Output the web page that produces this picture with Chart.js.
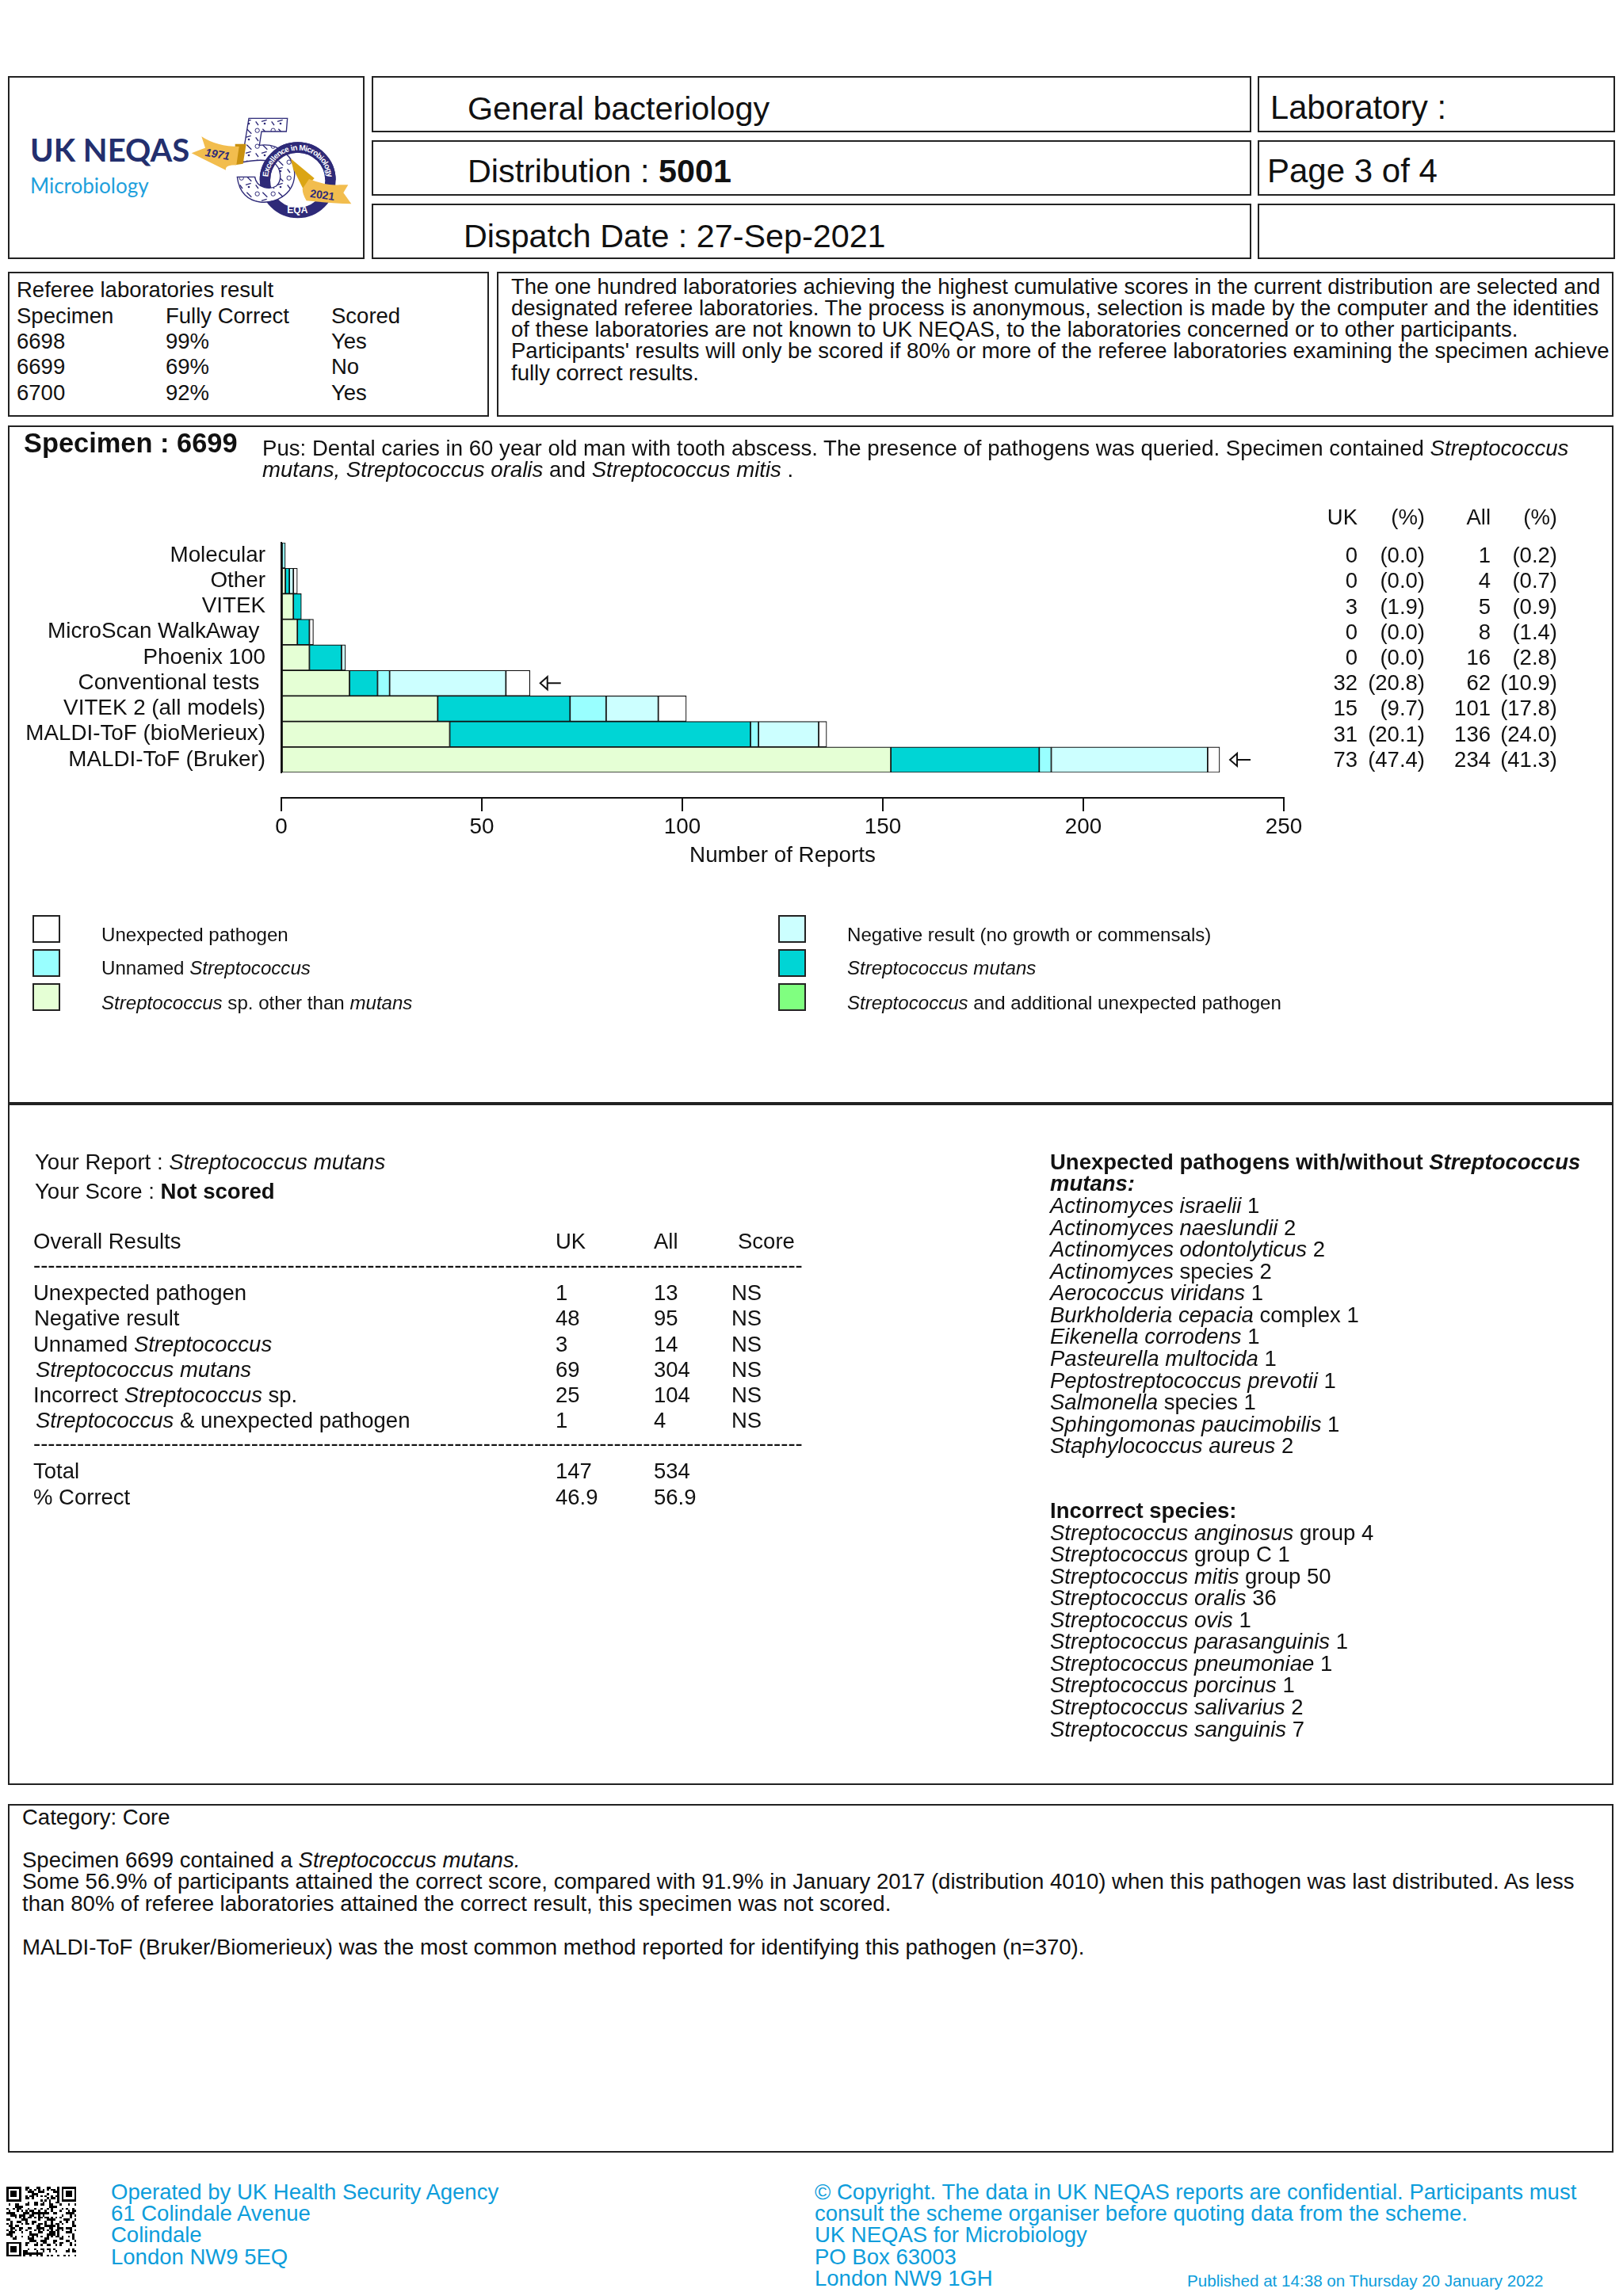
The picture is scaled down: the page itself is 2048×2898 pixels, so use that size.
<!DOCTYPE html>
<html>
<head>
<meta charset="utf-8">
<title>UK NEQAS General bacteriology</title>
<script src="https://cdn.jsdelivr.net/npm/chart.js@4"></script>
<style>
  html, body { margin: 0; padding: 0; background: #fff; }
  #page { position: relative; width: 2048px; height: 2898px; overflow: hidden; font-family: "Liberation Sans", Arial, sans-serif; color: #111; }
  .box { position: absolute; box-sizing: border-box; border: 2px solid #222; }
  .t { position: absolute; white-space: pre; line-height: 1.117; }
  .sw { position: absolute; box-sizing: border-box; width: 35px; height: 35px; border: 2px solid #222; }
  canvas, svg { position: absolute; }
</style>
</head>
<body>
<div id="page">
  <svg id="logo" style="left:20px;top:140px" width="430" height="180" viewBox="0 0 1290 540">
    <defs>
      <pattern id="bugs" width="60" height="60" patternUnits="userSpaceOnUse">
        <rect width="60" height="60" fill="#fff"/>
        <circle cx="14" cy="14" r="8" fill="none" stroke="#2e2a78" stroke-width="3"/>
        <path d="M34 8 L52 26 M30 40 L50 34 M8 40 L18 54" stroke="#2e2a78" stroke-width="4"/>
        <circle cx="42" cy="48" r="4" fill="#2e2a78"/>
      </pattern>
    </defs>
    <circle cx="1067" cy="262" r="124" fill="none" stroke="#2e2a78" stroke-width="40"/>
    <path d="M882 28 L1028 28 L1024 78 L930 78 L922 130 C990 120 1060 170 1055 245 C1050 320 980 350 925 345 C880 340 845 310 838 250 L905 250 C910 290 960 300 985 285 C1010 265 1005 215 975 195 C940 180 880 190 855 195 Z" fill="url(#bugs)" stroke="#2e2a78" stroke-width="4"/>
    <path d="M943 262 A124 124 0 0 1 1191 262" fill="none" stroke="#2e2a78" stroke-width="40"/>
    <text id="ringText" font-family="'Liberation Sans Narrow','Liberation Sans'" font-size="30" font-weight="bold" fill="#fff">Excellence in Microbiology</text>
    <text x="1066" y="388" text-anchor="middle" font-family="'Liberation Sans'" font-size="36" font-weight="bold" fill="#fff">EQA</text>
    <path d="M830 125 L872 125 L860 200 L830 205 Z" fill="#c8900f"/>
    <path d="M1040 180 L1130 255 L1090 300 L1050 220 Z" fill="#dba514"/>
    <path d="M703 97 Q760 135 845 135 L835 205 Q790 205 795 224 Q735 195 665 160 L717 140 Z" fill="#f2bd4e"/>
    <path d="M1110 258 Q1180 285 1225 280 L1258 280 L1240 310 L1270 352 Q1200 350 1100 340 Q1085 315 1085 295 Z" fill="#f2bd4e"/>
    <text transform="translate(715 170) rotate(10)" font-family="'Liberation Sans'" font-size="42" font-weight="bold" font-style="italic" fill="#2e2a78">1971</text>
    <text transform="translate(1112 326) rotate(8)" font-family="'Liberation Sans'" font-size="42" font-weight="bold" fill="#2e2a78">2021</text>
  </svg>
  <canvas id="reports" width="2048" height="480" style="left:0;top:640px"></canvas>
</div>

<script>
  // chart data, top to bottom
  const methods = ['Molecular', 'Other', 'VITEK', 'MicroScan WalkAway ', 'Phoenix 100', 'Conventional tests ', 'VITEK 2 (all models)', 'MALDI-ToF (bioMerieux)', 'MALDI-ToF (Bruker)'];
  const otherSpecies = [null, 1, 3, 4, 7, 17, 39, 42, 152];
  const mutans = [null, 1, 2, 3, 8, 7, 33, 75, 37];
  const unnamed = [1, null, null, null, null, 3, 9, 2, 3];
  const negative = [null, 1, null, null, 1, 29, 13, 15, 39];
  const unexpected = [null, 1, null, 1, null, 6, 7, 2, 3];
  const withUnexpected = [null, null, null, null, null, null, null, null, null];

  const xTicks = [0, 50, 100, 150, 200, 250];
  const ukCounts = [0, 0, 3, 0, 0, 32, 15, 31, 73];
  const ukPercent = ['(0.0)', '(0.0)', '(1.9)', '(0.0)', '(0.0)', '(20.8)', '(9.7)', '(20.1)', '(47.4)'];
  const allCounts = [1, 4, 5, 8, 16, 62, 101, 136, 234];
  const allPercent = ['(0.2)', '(0.7)', '(0.9)', '(1.4)', '(2.8)', '(10.9)', '(17.8)', '(24.0)', '(41.3)'];
  const arrowRows = [5, 8];

  // overall results table
  const overallRows = ['Unexpected pathogen', 'Negative result', 'Unnamed <i>Streptococcus</i>', '<i>Streptococcus mutans</i>', 'Incorrect <i>Streptococcus</i> sp.', '<i>Streptococcus</i> &amp; unexpected pathogen'];
  const overallIndent = [0, 1, 0, 3, 0, 3];
  const overallUk = [1, 48, 3, 69, 25, 1];
  const overallAll = [13, 95, 14, 304, 104, 4];

  const unexpectedList = ['<i>Actinomyces israelii</i> 1', '<i>Actinomyces naeslundii</i> 2', '<i>Actinomyces odontolyticus</i> 2', '<i>Actinomyces</i> species 2', '<i>Aerococcus viridans</i> 1', '<i>Burkholderia cepacia</i> complex 1', '<i>Eikenella corrodens</i> 1', '<i>Pasteurella multocida</i> 1', '<i>Peptostreptococcus prevotii</i> 1', '<i>Salmonella</i> species 1', '<i>Sphingomonas paucimobilis</i> 1', '<i>Staphylococcus aureus</i> 2'];
  const incorrectList = ['<i>Streptococcus anginosus</i> group 4', '<i>Streptococcus</i> group C 1', '<i>Streptococcus mitis</i> group 50', '<i>Streptococcus oralis</i> 36', '<i>Streptococcus ovis</i> 1', '<i>Streptococcus parasanguinis</i> 1', '<i>Streptococcus pneumoniae</i> 1', '<i>Streptococcus porcinus</i> 1', '<i>Streptococcus salivarius</i> 2', '<i>Streptococcus sanguinis</i> 7'];

  const GREEN = '#e5ffd5', TEAL = '#00d5d5', AQUA = '#99ffff', PALE = '#ccffff', WHITE = '#ffffff', LIME = '#80ff80';
  const BLUE = '#0d9ddb';
  const BODY = 27.5;
  const page = document.getElementById('page');

  function box(x1, y1, x2, y2) {
    const d = document.createElement('div');
    d.className = 'box';
    d.style.cssText = `left:${x1}px;top:${y1}px;width:${x2 - x1}px;height:${y2 - y1}px`;
    page.appendChild(d);
  }

  // x is the left edge (or right edge with align r), y the baseline
  function put(x, y, html, size = BODY, opt = {}) {
    const d = document.createElement('div');
    d.className = 't';
    d.innerHTML = html;
    d.style.fontSize = size + 'px';
    d.style.top = (y - size * 0.905) + 'px';
    if (opt.r) d.style.right = (2048 - x) + 'px'; else d.style.left = x + 'px';
    if (opt.color) d.style.color = opt.color;
    if (opt.font) d.style.fontFamily = opt.font;
    if (opt.extra) d.style.cssText += opt.extra;
    page.appendChild(d);
  }

  // bend the logo's ring text round the ring, glyph by glyph
  function bendRingText() {
    const el = document.getElementById('ringText');
    const word = el.textContent;
    const m = document.createElement('canvas').getContext('2d');
    m.font = 'bold 30px "Liberation Sans Narrow", "Liberation Sans"';
    const widths = [...word].map(ch => m.measureText(ch).width);
    const total = widths.reduce((a, b) => a + b, 0);
    const start = -174, sweep = 168;
    let run = 0;
    const xs = [], ys = [], rot = [];
    widths.forEach(w => {
      const deg = start + sweep * run / total;
      const rad = deg * Math.PI / 180;
      xs.push((1067 + 113 * Math.cos(rad)).toFixed(1));
      ys.push((262 + 113 * Math.sin(rad)).toFixed(1));
      rot.push((deg + 90).toFixed(1));
      run += w;
    });
    el.setAttribute('x', xs.join(' '));
    el.setAttribute('y', ys.join(' '));
    el.setAttribute('rotate', rot.join(' '));
  }
  bendRingText();

  // frames
  box(10, 96, 460, 327);
  box(469, 96, 1579, 167);
  box(469, 177, 1579, 247);
  box(469, 257, 1579, 327);
  box(1587, 96, 2038, 167);
  box(1587, 177, 2038, 247);
  box(1587, 257, 2038, 327);
  box(10, 343, 617, 526);
  box(627, 343, 2036, 526);
  box(10, 537, 2036, 1393);
  box(10, 1393, 2036, 2253);
  box(10, 2277, 2036, 2717);

  // logo text
  put(38, 203, 'UK NEQAS', 40, { color: '#232f6e', font: 'Lato', extra: 'font-weight:700' });
  put(38, 244, 'Microbiology', 26, { color: '#1ea0dc', font: 'Lato' });

  // header
  put(590, 151, 'General bacteriology', 41.3);
  put(590, 230.5, 'Distribution : <b>5001</b>', 41.3);
  put(585, 312, 'Dispatch Date : 27-Sep-2021', 41.3);
  put(1603, 151, 'Laboratory :', 41.6);
  put(1599, 231, 'Page 3 of 4', 42);

  // referee box
  put(21, 376, 'Referee laboratories result');
  put(21, 408.5, 'Specimen');
  put(209, 408.5, 'Fully Correct');
  put(418, 408.5, 'Scored');
  [['6698', '99%', 'Yes'], ['6699', '69%', 'No'], ['6700', '92%', 'Yes']].forEach((r, i) => {
    const y = 440.5 + i * 32.5;
    put(21, y, r[0]);
    put(209, y, r[1]);
    put(418, y, r[2]);
  });
  ['The one hundred laboratories achieving the highest cumulative scores in the current distribution are selected and',
   'designated referee laboratories. The process is anonymous, selection is made by the computer and the identities',
   'of these laboratories are not known to UK NEQAS, to the laboratories concerned or to other participants.',
   "Participants' results will only be scored if 80% or more of the referee laboratories examining the specimen achieve",
   'fully correct results.'].forEach((l, i) => put(645, 371.5 + i * 27.25, l));

  // specimen heading
  put(30, 571, '<b>Specimen : 6699</b>', 34.4);
  put(331, 576, 'Pus: Dental caries in 60 year old man with tooth abscess. The presence of pathogens was queried. Specimen contained <i>Streptococcus</i>', 27.6);
  put(331, 603, '<i>mutans, Streptococcus oralis</i> and <i>Streptococcus mitis</i> .', 27.6);

  // counts to the right of the chart
  const colUk = 1713, colUkPct = 1798, colAll = 1881, colAllPct = 1965;
  put(colUk, 663, 'UK', BODY, { r: 1 });
  put(colUkPct, 663, '(%)', BODY, { r: 1 });
  put(colAll, 663, 'All', BODY, { r: 1 });
  put(colAllPct, 663, '(%)', BODY, { r: 1 });
  methods.forEach((m, i) => {
    const y = 711 + i * 32.2;
    put(colUk, y, String(ukCounts[i]), BODY, { r: 1 });
    put(colUkPct, y, ukPercent[i], BODY, { r: 1 });
    put(colAll, y, String(allCounts[i]), BODY, { r: 1 });
    put(colAllPct, y, allPercent[i], BODY, { r: 1 });
  });

  // legend
  const legendRows = [
    [41, 1155, WHITE, 128, 1189, 'Unexpected pathogen'],
    [41, 1198, AQUA, 128, 1231, 'Unnamed <i>Streptococcus</i>'],
    [41, 1241, GREEN, 128, 1275, '<i>Streptococcus</i> sp. other than <i>mutans</i>'],
    [982, 1155, PALE, 1069, 1189, 'Negative result (no growth or commensals)'],
    [982, 1198, TEAL, 1069, 1231, '<i>Streptococcus mutans</i>'],
    [982, 1241, LIME, 1069, 1275, '<i>Streptococcus</i> and additional unexpected pathogen']
  ];
  legendRows.forEach(r => {
    const s = document.createElement('div');
    s.className = 'sw';
    s.style.cssText = `left:${r[0]}px;top:${r[1]}px;background:${r[2]}`;
    page.appendChild(s);
    put(r[3], r[4], r[5], 24.1);
  });

  // results box, left
  put(44, 1477, 'Your Report : <i>Streptococcus mutans</i>', 27.6);
  put(44, 1514, 'Your Score : <b>Not scored</b>', 27.6);
  put(42, 1577, 'Overall Results');
  put(701, 1577, 'UK');
  put(825, 1577, 'All');
  put(931, 1577, 'Score');
  const dashes = '-'.repeat(106);
  put(42, 1607, dashes);
  overallRows.forEach((r, i) => {
    const y = 1642 + i * 32.2;
    put(42 + overallIndent[i], y, r);
    put(701, y, String(overallUk[i]));
    put(825, y, String(overallAll[i]));
    put(923, y, 'NS');
  });
  put(42, 1832, dashes);
  put(42, 1867, 'Total');
  put(701, 1867, '147');
  put(825, 1867, '534');
  put(42, 1900, '% Correct');
  put(701, 1900, '46.9');
  put(825, 1900, '56.9');

  // results box, right
  put(1325, 1476.5, '<b>Unexpected pathogens with/without <i>Streptococcus</i></b>');
  put(1325, 1504, '<b><i>mutans:</i></b>');
  unexpectedList.forEach((l, i) => put(1325, 1532 + i * 27.55, l));
  put(1325, 1916.5, '<b>Incorrect species:</b>');
  incorrectList.forEach((l, i) => put(1325, 1944.5 + i * 27.55, l));

  // commentary
  put(28, 2304, 'Category: Core');
  put(28, 2358, 'Specimen 6699 contained a <i>Streptococcus mutans.</i>');
  put(28, 2385, 'Some 56.9% of participants attained the correct score, compared with 91.9% in January 2017 (distribution 4010) when this pathogen was last distributed. As less', 27.55);
  put(28, 2413, 'than 80% of referee laboratories attained the correct result, this specimen was not scored.', 27.55);
  put(28, 2468, 'MALDI-ToF (Bruker/Biomerieux) was the most common method reported for identifying this pathogen (n=370).', 27.55);

  // footer
  ['Operated by UK Health Security Agency', '61 Colindale Avenue', 'Colindale', 'London NW9 5EQ']
    .forEach((l, i) => put(140, 2776.5 + i * 27.3, l, BODY, { color: BLUE }));
  ['© Copyright. The data in UK NEQAS reports are confidential. Participants must', 'consult the scheme organiser before quoting data from the scheme.', 'UK NEQAS for Microbiology', 'PO Box 63003', 'London NW9 1GH']
    .forEach((l, i) => put(1028, 2776.5 + i * 27.3, l, BODY, { color: BLUE }));
  put(1498, 2886, 'Published at 14:38 on Thursday 20 January 2022', 20.6, { color: BLUE });

  // QR code block: finder squares plus a fixed fill pattern
  const qrSize = 33, mod = 2.68;
  let qr = '';
  function finder(cx, cy) {
    return `<rect x="${cx}" y="${cy}" width="7" height="7"/><rect x="${cx + 1}" y="${cy + 1}" width="5" height="5" fill="#fff"/><rect x="${cx + 2}" y="${cy + 2}" width="3" height="3"/>`;
  }
  for (let r = 0; r < qrSize; r++) {
    for (let c = 0; c < qrSize; c++) {
      const inFinder = (r < 8 && c < 8) || (r < 8 && c > qrSize - 9) || (r > qrSize - 9 && c < 8);
      if (!inFinder && ((r * 7 + c * 13 + (r * c) % 11 + (r ^ c)) % 5 < 2)) qr += `<rect x="${c}" y="${r}" width="1" height="1"/>`;
    }
  }
  qr += finder(0, 0) + finder(qrSize - 7, 0) + finder(0, qrSize - 7);
  page.insertAdjacentHTML('beforeend', `<svg style="left:8px;top:2760px" width="${qrSize * mod}" height="${qrSize * mod}" viewBox="0 0 ${qrSize} ${qrSize}" fill="#000" shape-rendering="crispEdges">${qr}</svg>`);

  // the x axis sits a little below the bars
  const AXIS_DROP = 32;
  const dropAxis = {
    id: 'dropAxis',
    afterLayout(chart) {
      const x = chart.scales.x;
      x.top += AXIS_DROP;
      x.bottom += AXIS_DROP;
    }
  };

  // open arrows that mark the user's method
  const methodArrows = {
    id: 'methodArrows',
    afterDatasetsDraw(chart) {
      const { ctx, scales } = chart;
      ctx.save();
      ctx.strokeStyle = '#111';
      ctx.lineWidth = 2;
      arrowRows.forEach(i => {
        const x = scales.x.getPixelForValue(allCounts[i]) + 13;
        const y = scales.y.getPixelForValue(i);
        ctx.beginPath();
        ctx.moveTo(x + 9, y - 8);
        ctx.lineTo(x, y);
        ctx.lineTo(x + 9, y + 8);
        ctx.closePath();
        ctx.moveTo(x + 9, y);
        ctx.lineTo(x + 26, y);
        ctx.stroke();
      });
      ctx.restore();
    }
  };

  function series(label, data, color) {
    return { label, data, backgroundColor: color, borderColor: '#111', borderWidth: 1.2, borderSkipped: false, barPercentage: 1, categoryPercentage: 1 };
  }

  Chart.defaults.font.family = '"Liberation Sans", Arial, sans-serif';
  Chart.defaults.font.size = 27.8;
  Chart.defaults.color = '#111';

  new Chart(document.getElementById('reports').getContext('2d'), {
    type: 'bar',
    data: {
      labels: methods,
      datasets: [
        series('Streptococcus sp. other than mutans', otherSpecies, GREEN),
        series('Streptococcus mutans', mutans, TEAL),
        series('Unnamed Streptococcus', unnamed, AQUA),
        series('Negative result (no growth or commensals)', negative, PALE),
        series('Unexpected pathogen', unexpected, WHITE),
        series('Streptococcus and additional unexpected pathogen', withUnexpected, LIME)
      ]
    },
    options: {
      indexAxis: 'y',
      responsive: false,
      animation: false,
      devicePixelRatio: 1,
      layout: { padding: { top: 45, right: 428, bottom: 55, left: 0 } },
      plugins: { legend: { display: false }, tooltip: { enabled: false } },
      scales: {
        x: {
          stacked: true,
          min: 0,
          max: 250,
          afterBuildTicks: s => { s.ticks = xTicks.map(value => ({ value })); },
          afterFit: s => { s.height = 90; },
          grid: { drawOnChartArea: false, tickLength: 17, tickColor: '#111', lineWidth: 2 },
          border: { color: '#111', width: 2 },
          ticks: { padding: 4, maxRotation: 0, color: '#111' },
          title: { display: true, text: 'Number of Reports', color: '#111', padding: 0 }
        },
        y: {
          stacked: true,
          afterFit: s => { s.width = 355; },
          grid: { display: false, drawTicks: false },
          border: { color: '#111', width: 2 },
          ticks: { padding: 20, color: '#111', autoSkip: false }
        }
      }
    },
    plugins: [dropAxis, methodArrows]
  });
</script>
</body>
</html>
